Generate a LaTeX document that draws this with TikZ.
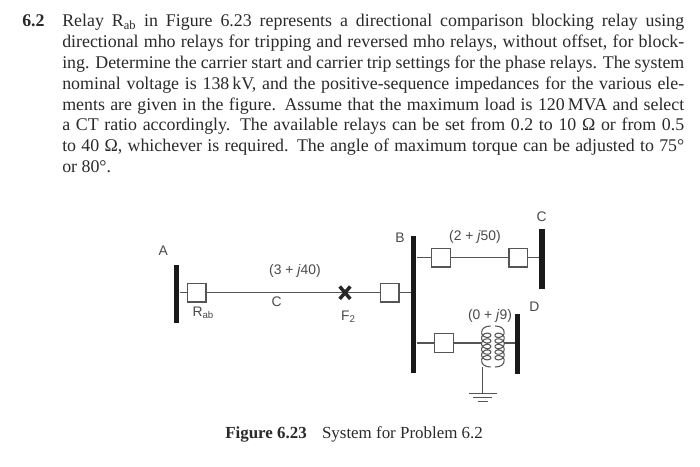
\documentclass[tikz,border=0pt]{standalone}
\usetikzlibrary{calc}
\usepackage{fontspec}
\setmainfont{Liberation Serif}
\newfontfamily\lblfont{Liberation Sans}
\definecolor{inkc}{HTML}{2A2A2A}
\definecolor{linec}{HTML}{555555}
\newcommand{\jline}[1]{\hbox to 466.5pt{#1}}
\tikzset{
 bodyline/.style={anchor=base west,inner sep=0pt,text=inkc,font=\fontsize{13.4}{16}\selectfont},
 caption/.style={anchor=base west,inner sep=0pt,text=inkc,font=\fontsize{12.7}{16}\selectfont},
 lbl/.style={inner sep=0pt,text=inkc!85!white,font=\lblfont\fontsize{10.4}{12}\selectfont},
 bus/.style={rectangle,fill=black!90,draw=none,inner sep=0pt,minimum width=4.1pt},
 brk/.style={rectangle,draw=linec,fill=white,line width=0.9pt,inner sep=0pt,minimum width=14pt,minimum height=14pt},
 wire/.style={draw=linec,line width=1.15pt},
 coilw/.style={draw=linec,line width=0.8pt},
 gnd/.style={draw=linec,line width=1pt},
}
\begin{document}
\begin{tikzpicture}[x=0.75pt,y=-0.75pt]
\useasboundingbox (0,0) rectangle (700,467);
\fill[white] (0,0) rectangle (700,467);
% problem text
\node[bodyline] (num) at (22,26.7) {\textbf{6.2}};
\node[bodyline] (l1) at (62,26.7) {\jline{Relay R\textsubscript{ab} in Figure 6.23 represents a directional comparison blocking relay using}};
\node[bodyline] (l2) at (62,47.7) {\jline{directional mho relays for tripping and reversed mho relays, without offset, for block-}};
\node[bodyline] (l3) at (62,68.3) {\jline{ing. Determine the carrier start and carrier trip settings for the phase relays. The system}};
\node[bodyline] (l4) at (62,89.3) {\jline{nominal voltage is 138\,kV, and the positive-sequence impedances for the various ele-}};
\node[bodyline] (l5) at (62,110) {\jline{ments are given in the figure. Assume that the maximum load is 120\,MVA and select}};
\node[bodyline] (l6) at (62,130.7) {\jline{a CT ratio accordingly. The available relays can be set from 0.2 to 10 Ω or from 0.5}};
\node[bodyline] (l7) at (62,151.7) {\jline{to 40 Ω, whichever is required. The angle of maximum torque can be adjusted to 75°}};
\node[bodyline] (l8) at (62,172.3) {or 80°.};
% buses
\node[bus,minimum height=43.5pt] (busA) at (176.7,294) {};
\node[bus,minimum height=102.5pt] (busB) at (413.7,304.4) {};
\node[bus,minimum height=45pt] (busC) at (541.8,259.3) {};
\node[bus,minimum height=45pt] (busD) at (517.5,344.3) {};
% breakers
\node[brk] (rab) at (196.7,292.7) {};
\node[brk] (brkF) at (389.7,292.7) {};
\node[brk] (brkB1) at (441,257.7) {};
\node[brk] (brkC) at (518.3,257.7) {};
\node[brk] (brkB2) at (444,343.2) {};
% fault
\node[inner sep=0pt,minimum size=0pt] (fault) at (345,292.7) {};
\coordinate (tfl) at (482,343.2);
\coordinate (tfr) at (504.3,343.2);
\coordinate (gtop) at (482.3,366.5);
\coordinate (gbot) at (482.3,393.3);
% connectors
\draw[wire] (busA.east |- rab.west) -- (rab.west);
\draw[wire] (rab.east) -- (fault.center);
\draw[wire] (fault.center) -- (brkF.west);
\draw[wire] (brkF.east) -- (busB.west |- brkF.east);
\draw[wire] (busB.east |- brkB1.west) -- (brkB1.west);
\draw[wire] (brkB1.east) -- (brkC.west);
\draw[wire] (brkC.east) -- (busC.west |- brkC.east);
\draw[wire] (busB.east |- brkB2.west) -- (brkB2.west);
\draw[wire] (brkB2.east) -- (tfl);
\draw[wire] (tfr) -- (busD.west |- tfr);
\draw[wire] (gtop) -- (gbot);
% fault cross
\draw[black!85,line width=2.6pt] ($(fault)+(-5.3,-6.2)$) -- ($(fault)+(5.3,6.2)$);
\draw[black!85,line width=2.6pt] ($(fault)+(5.3,-6.2)$) -- ($(fault)+(-5.3,6.2)$);
% transformer windings
\draw[coilw,smooth,samples=130,domain=180:1980] plot ({486.2+4.6*cos(\x)},{332.5+5.6*(\x-180)/360-3.4*sin(\x)});
\draw[coilw,smooth,samples=130,domain=180:1980] plot ({499.6-4.6*cos(\x)},{332.5+5.6*(\x-180)/360-3.4*sin(\x)});
\draw[coilw] (490.7,326) .. controls (485,326) and (481.6,328.5) .. (481.6,332.5);
\draw[coilw] (481.6,360.5) .. controls (481.6,364.5) and (485,367) .. (490.7,367);
\draw[coilw] (495.1,326) .. controls (500.8,326) and (504.2,328.5) .. (504.2,332.5);
\draw[coilw] (504.2,360.5) .. controls (504.2,364.5) and (500.8,367) .. (495.1,367);
% ground
\draw[gnd] (469,393.3) -- (496.7,393.3);
\draw[gnd] (473.3,397.3) -- (491.7,397.3);
\draw[gnd] (477.7,401.3) -- (488.3,401.3);
% labels
\node[lbl] (la) at (163.3,251) {A};
\node[lbl] (lb) at (400,237.7) {B};
\node[lbl] (lc) at (541.7,216.7) {C};
\node[lbl] (ld) at (534.3,306.7) {D};
\node[lbl] (lz1) at (295,271) {(3 + \textit{j}40)};
\node[lbl] (lcc) at (276.7,301.7) {C};
\node[lbl] (lrab) at (203.3,313) {R\textsubscript{ab}};
\node[lbl] (lf) at (348.3,316.7) {F\textsubscript{2}};
\node[lbl] (lz2) at (475,237.3) {(2 + \textit{j}50)};
\node[lbl] (lz3) at (490,316) {(0 + \textit{j}9)};
% caption
\node[caption] (cap) at (225,438) {\textbf{Figure 6.23}\hspace{0.9em}System for Problem 6.2};
\end{tikzpicture}
\end{document}
